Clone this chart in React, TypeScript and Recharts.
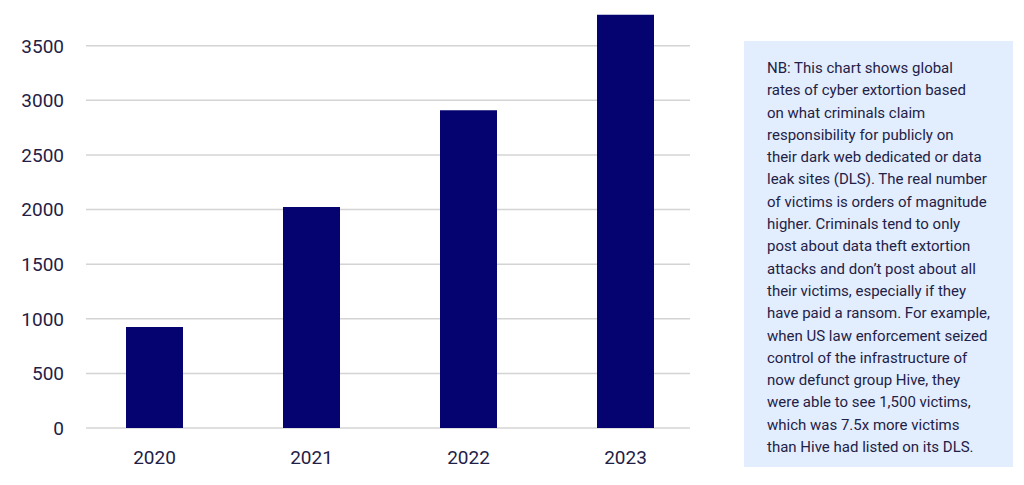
import React from 'react';
import { BarChart, Bar, XAxis, YAxis, CartesianGrid } from 'recharts';

const years = ['2020', '2021', '2022', '2023'];
const victims = [925, 2023, 2910, 3784];
const yTicks = [0, 500, 1000, 1500, 2000, 2500, 3000, 3500];

const noteLines = [
  'NB: This chart shows global',
  'rates of cyber extortion based',
  'on what criminals claim',
  'responsibility for publicly on',
  'their dark web dedicated or data',
  'leak sites (DLS). The real number',
  'of victims is orders of magnitude',
  'higher. Criminals tend to only',
  'post about data theft extortion',
  'attacks and don\u2019t post about all',
  'their victims, especially if they',
  'have paid a ransom. For example,',
  'when US law enforcement seized',
  'control of the infrastructure of',
  'now defunct group Hive, they',
  'were able to see 1,500 victims,',
  'which was 7.5x more victims',
  'than Hive had listed on its DLS.',
];

const data = years.map((year, i) => ({ year, victims: victims[i] }));

const textColor = '#1f2147';
const font = 'Roboto, "Open Sans", sans-serif';

// grid lines sit slightly inside the bar bands, like the original
const GridLine = (props: any) => (
  <line
    x1={props.x1 + 10}
    x2={props.x2 - 14}
    y1={props.y1}
    y2={props.y2}
    stroke="#d4d4d4"
    strokeWidth={1.5}
  />
);

export default function App() {
  return (
    <div
      style={{
        position: 'absolute',
        left: 0,
        top: 0,
        width: 1024,
        height: 485,
        background: '#ffffff',
        fontFamily: font,
      }}
    >
      <BarChart
        width={720}
        height={485}
        data={data}
        margin={{ top: 13, right: 16, bottom: 0, left: 0 }}
      >
        <CartesianGrid vertical={false} horizontal={GridLine} horizontalValues={yTicks} />
        <XAxis
          dataKey="year"
          axisLine={false}
          tickLine={false}
          height={57}
          tickMargin={17}
          tick={{ fill: textColor, fontSize: 19, fontFamily: font }}
        />
        <YAxis
          domain={[0, 3800]}
          ticks={yTicks}
          axisLine={false}
          tickLine={false}
          width={76}
          tickMargin={6}
          tick={{ fill: textColor, fontSize: 19, fontFamily: font }}
        />
        <Bar dataKey="victims" fill="#05036f" barSize={57} isAnimationActive={false} />
      </BarChart>
      <div
        style={{
          position: 'absolute',
          left: 744,
          top: 41,
          width: 269,
          height: 426,
          background: '#e2eefd',
          boxSizing: 'border-box',
          padding: '16px 0 0 23px',
          color: textColor,
          fontSize: 15,
          lineHeight: '22.3px',
          whiteSpace: 'nowrap',
        }}
      >
        {noteLines.map((line) => (
          <div key={line}>{line}</div>
        ))}
      </div>
    </div>
  );
}
